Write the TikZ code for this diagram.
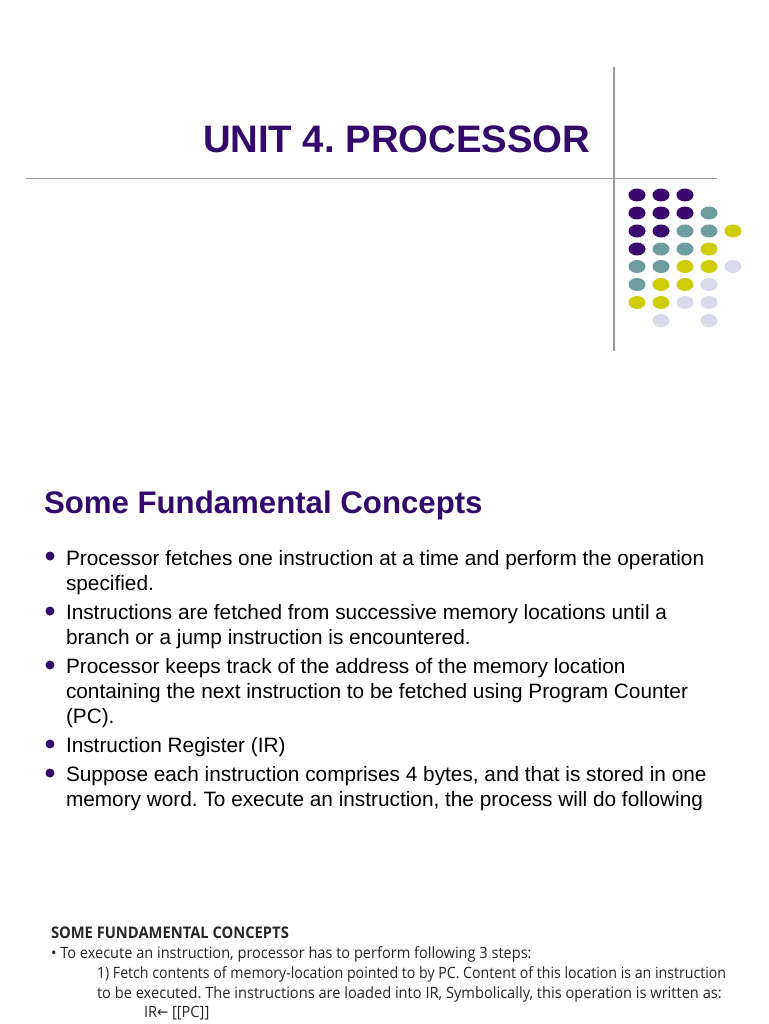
\documentclass[tikz,border=0pt]{standalone}
\usepackage{fontspec}
\setmainfont{Liberation Sans}
\newfontfamily\slidefont[FakeStretch=0.92]{Open Sans}
\newfontfamily\slidefontA[FakeStretch=0.934]{Open Sans}
\newfontfamily\slidefontB[FakeStretch=0.908]{Open Sans}
\newfontfamily\slidefontC[FakeStretch=0.938]{Open Sans}
\newfontfamily\arrowfont[FakeStretch=0.85]{DejaVu Sans}
\definecolor{titlepurple}{HTML}{330A6B}
\definecolor{dotpurple}{HTML}{3A0A6E}
\definecolor{dotteal}{HTML}{6C9C9E}
\definecolor{dotyellow}{HTML}{CFCC08}
\definecolor{dotlav}{HTML}{D9D9EC}
\tikzset{
  txt/.style={anchor=base west,inner sep=0pt,outer sep=0pt},
  titletext/.style={txt,text=titlepurple,font=\fontsize{38.3}{38}\selectfont\bfseries\frenchspacing},
  headtext/.style={txt,text=titlepurple,font=\fontsize{31.2}{31}\selectfont\bfseries\frenchspacing},
  bodytext/.style={txt,text=black,font=\fontsize{20.8}{21}\selectfont\frenchspacing},
  smalltext/.style={txt,text=black!85,font=\fontsize{15.6}{16}\slidefont\selectfont\frenchspacing},
  smalla/.style={smalltext,font=\fontsize{15.6}{16}\slidefontA\selectfont\frenchspacing},
  smallb/.style={smalltext,font=\fontsize{15.6}{16}\slidefontB\selectfont\frenchspacing},
  smallc/.style={smalltext,font=\fontsize{15.6}{16}\slidefontC\selectfont\frenchspacing},
  smallhead/.style={txt,text=black!85,font=\fontsize{16}{16}\slidefont\selectfont\bfseries\frenchspacing},
  bul/.style={circle,fill=titlepurple,inner sep=0pt,minimum size=9pt},
  rule/.style={line width=0.9pt,draw=black!40},
  dota/.style={ellipse,inner sep=0pt,minimum width=17pt,minimum height=13pt,fill=dotpurple},
  dotb/.style={dota,fill=dotteal},
  dotc/.style={dota,fill=dotyellow},
  dotd/.style={dota,fill=dotlav},
}
\usetikzlibrary{shapes.geometric}
\begin{document}
\begin{tikzpicture}[x=1pt,y=-1pt]
\useasboundingbox[fill=white] (0,0) rectangle (768,1024);
\coordinate (hl) at (26,178); \coordinate (hr) at (717,178);
\coordinate (vt) at (614,67); \coordinate (vb) at (614,351);
\draw[rule] (hl) -- (hr);
\draw[rule,line width=1.3pt] (vt) -- (vb);
\node[titletext] (title) at (203,153) {UNIT 4. PROCESSOR};
\foreach \x/\y/\s [count=\i] in {
 637/195/dota,661/195/dota,685/195/dota,
 637/213/dota,661/213/dota,685/213/dota,709/213/dotb,
 637/231/dota,661/231/dota,685/231/dotb,709/231/dotb,733/231/dotc,
 637/249/dota,661/249/dotb,685/249/dotb,709/249/dotc,
 637/266.5/dotb,661/266.5/dotb,685/266.5/dotc,709/266.5/dotc,733/266.5/dotd,
 637/284.5/dotb,661/284.5/dotc,685/284.5/dotc,709/284.5/dotd,
 637/302.5/dotc,661/302.5/dotc,685/302.5/dotd,709/302.5/dotd,
 661/320.5/dotd,709/320.5/dotd}
 \node[\s] (d\i) at (\x,\y) {};
\node[headtext] (head) at (44,513) {Some Fundamental Concepts};
\node[bul] (b1) at (50,556) {};
\node[bul] (b2) at (50,611) {};
\node[bul] (b3) at (50,665) {};
\node[bul] (b4) at (50,744) {};
\node[bul] (b5) at (50,773) {};
\node[bodytext] (l1) at (66,565) {Processor fetches one instruction at a time and perform the operation};
\node[bodytext] (l2) at (66,590) {specified.};
\node[bodytext] (l3) at (66,619) {Instructions are fetched from successive memory locations until a};
\node[bodytext] (l4) at (66,644) {branch or a jump instruction is encountered.};
\node[bodytext] (l5) at (66,673) {Processor keeps track of the address of the memory location};
\node[bodytext] (l6) at (66,698) {containing the next instruction to be fetched using Program Counter};
\node[bodytext] (l7) at (66,723) {(PC).};
\node[bodytext] (l8) at (66,752) {Instruction Register (IR)};
\node[bodytext] (l9) at (66,781) {Suppose each instruction comprises 4 bytes, and that is stored in one};
\node[bodytext] (l10) at (66,806) {memory word. To execute an instruction, the process will do following};
\node[smallhead] (s0) at (51,938) {SOME FUNDAMENTAL CONCEPTS};
\node[smalla] (s1) at (51,958) {• To execute an instruction, processor has to perform following 3 steps:};
\node[smallb] (s2) at (97,978) {1) Fetch contents of memory-location pointed to by PC. Content of this location is an instruction};
\node[smallc] (s3) at (97,998) {to be executed. The instructions are loaded into IR, Symbolically, this operation is written as:};
\node[smallc] (s4) at (144,1017) {IR{\arrowfont ←} [[PC]]};
\end{tikzpicture}
\end{document}
